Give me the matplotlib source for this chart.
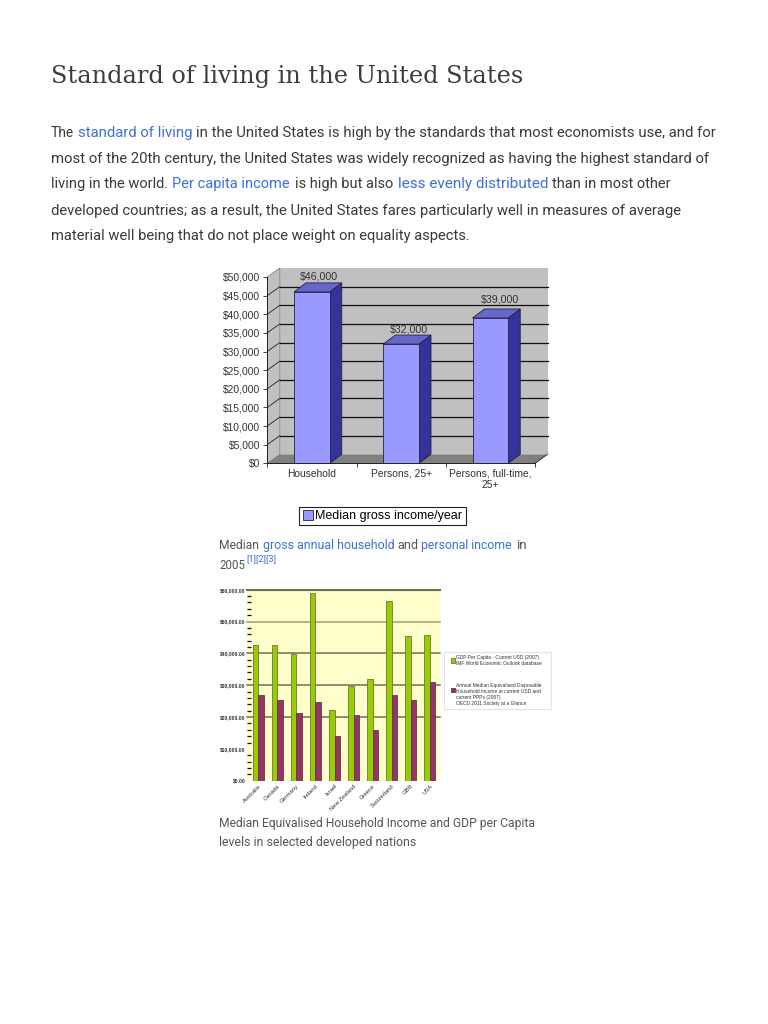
import matplotlib
matplotlib.use("Agg")
import matplotlib.pyplot as plt
from matplotlib.patches import Polygon, Patch
from matplotlib.ticker import FixedLocator, FixedFormatter
from matplotlib.transforms import ScaledTranslation

# ---- data ----
income_categories = ["Household", "Persons, 25+", "Persons, full-time,\n25+"]
income_values = [46000, 32000, 39000]
income_labels = ["$46,000", "$32,000", "$39,000"]
income_ticks = [0, 5000, 10000, 15000, 20000, 25000, 30000, 35000, 40000, 45000, 50000]

countries = ["Australia", "Canada", "Germany", "Ireland", "Israel", "New Zealand",
             "Greece", "Switzerland", "GBR", "USA"]
gdp_per_capita = [42600, 42700, 39800, 59000, 22200, 29800, 32000, 56600, 45300, 45700]
median_income = [27000, 25400, 21300, 24800, 14100, 20600, 15800, 26900, 25200, 31100]
gdp_ticks = [0, 10000, 20000, 30000, 40000, 50000, 60000]
gdp_gridlines = [20000, 30000, 40000, 50000, 60000]

title = "Standard of living in the United States"
DARK, LINK, GREY = "#3a3a3a", "#3f6fd8", "#555555"
segments = [
    ("The", 51, 74, 137, DARK),
    ("standard of living", 78.5, 192, 137, LINK),
    ("in the United States is high by the standards that most economists use, and for", 196, 715, 137, DARK),
    ("most of the 20th century, the United States was widely recognized as having the highest standard of", 51, 709, 163, DARK),
    ("living in the world.", 51, 168, 188, DARK),
    ("Per capita income", 172, 290, 188, LINK),
    ("is high but also", 295, 393, 188, DARK),
    ("less evenly distributed", 398, 548, 188, LINK),
    ("than in most other", 552, 670, 188, DARK),
    ("developed countries; as a result, the United States fares particularly well in measures of average", 51, 684, 215, DARK),
    ("material well being that do not place weight on equality aspects.", 51, 471, 240, DARK),
    ("Median", 219, 259, 549, GREY),
    ("gross annual household", 263, 394, 549, LINK),
    ("and", 397, 418, 549, GREY),
    ("personal income", 421, 511, 549, LINK),
    ("in", 516, 524, 549, GREY),
    ("2005", 219, 245, 569, GREY),
    ("[1][2][3]", 246, 276, 561, LINK),
    ("Median Equivalised Household Income and GDP per Capita", 219, 538, 827, GREY),
    ("levels in selected developed nations", 219, 416, 846, GREY),
]

W, H = 768, 1024
fig = plt.figure(figsize=(W / 100, H / 100), dpi=100, facecolor="white")
page = fig.add_axes([0, 0, 1, 1], zorder=0)
page.set_xlim(0, W)
page.set_ylim(H, 0)
page.axis("off")
renderer = fig.canvas.get_renderer()


def fitted(txt, x0, x1, y, color, family, size):
    t = page.text(x0, y, txt, color=color, family=family, fontsize=size, va="baseline", ha="left")
    if len(txt) > 2:
        for _ in range(3):
            w = t.get_window_extent(renderer).width
            t.set_fontsize(t.get_fontsize() * (x1 - x0) / w)
    return t


fitted(title, 51, 522, 83, "#3c3c3c", "DejaVu Serif", 18)
for txt, x0, x1, y, col, in segments:
    fitted(txt, x0, x1, y, col, "Roboto", 10.2 if y < 300 else 9.6)


def axes_px(l, t, r, b):
    return fig.add_axes([l / W, 1 - b / H, (r - l) / W, (b - t) / H], zorder=2)


# ---- chart 1: pseudo-3D column chart ----
ax = axes_px(267.3, 277, 535, 463.3)
ax.set_xlim(0, 3)
ax.set_ylim(0, 50000)
ax.patch.set_visible(False)
dx, dy = 12.5 / 89.2, 9 / 186.3 * 50000
WALL = "#c0c0c0"
ax.add_patch(Polygon([(dx, dy), (3 + dx, dy), (3 + dx, 50000 + dy), (dx, 50000 + dy)],
                     fc=WALL, ec="none", clip_on=False, zorder=1))
ax.add_patch(Polygon([(0, 0), (dx, dy), (dx, 50000 + dy), (0, 50000)],
                     fc=WALL, ec="#777777", lw=0.5, clip_on=False, zorder=1))
ax.add_patch(Polygon([(0, 0), (3, 0), (3 + dx, dy), (dx, dy)],
                     fc="#808080", ec="none", clip_on=False, zorder=1))
for v in income_ticks[1:-1]:
    ax.plot([dx, 3 + dx], [v + dy, v + dy], color="#111111", lw=0.9, clip_on=False, zorder=2)
    ax.plot([0, dx], [v, v + dy], color="#222222", lw=0.6, clip_on=False, zorder=2)
ax.plot([3, 3 + dx], [0, dy], color="#222222", lw=0.6, clip_on=False, zorder=2)

centers = [0.5, 1.5, 2.5]
bw = 0.4
bdx, bdy = 12 / 89.2, dy
bars = ax.bar(centers, income_values, width=bw, color="#9999ff", edgecolor="#222244",
              linewidth=0.6, zorder=4, label="Median gross income/year")
for c, v in zip(centers, income_values):
    xl, xr = c - bw / 2, c + bw / 2
    ax.add_patch(Polygon([(xr, 0), (xr + bdx, bdy), (xr + bdx, v + bdy), (xr, v)],
                         fc="#333399", ec="#222244", lw=0.6, clip_on=False, zorder=3))
    ax.add_patch(Polygon([(xl, v), (xr, v), (xr + bdx, v + bdy), (xl + bdx, v + bdy)],
                         fc="#6666cc", ec="#222244", lw=0.6, clip_on=False, zorder=3))
for c, v, lab, off in zip(centers, income_values, income_labels, [(7, 15), (8, 15), (10, 18)]):
    ax.annotate(lab, (c, v), xytext=off, textcoords="offset pixels", ha="center", va="center",
                family="Liberation Sans", fontsize=7.7, color="#333333", zorder=6, annotation_clip=False)

for s in ["top", "right"]:
    ax.spines[s].set_visible(False)
for s in ["left", "bottom"]:
    ax.spines[s].set_linewidth(0.7)
    ax.spines[s].set_color("#222222")
    ax.spines[s].set_zorder(5)
ax.set_yticks(income_ticks)
ax.set_yticklabels([f"${v:,}" for v in income_ticks], family="Liberation Sans", fontsize=7.4, color="#333333")
ax.tick_params(axis="y", length=3, width=0.6, pad=2, color="#222222")
ax.set_xticks([0, 1, 2, 3])
ax.set_xticklabels([])
ax.xaxis.set_minor_locator(FixedLocator(centers))
ax.xaxis.set_minor_formatter(FixedFormatter(income_categories))
ax.tick_params(axis="x", which="major", length=3, width=0.6, color="#222222")
ax.tick_params(axis="x", which="minor", length=0, pad=4, labelsize=7.4, labelcolor="#333333")
for t in ax.xaxis.get_minorticklabels():
    t.set_family("Liberation Sans")
ax.legend(handles=[Patch(fc="#9999ff", ec="#222244", lw=0.6, label="Median gross income/year")],
          loc="center", bbox_to_anchor=(382.5, 516), bbox_transform=page.transData,
          prop={"family": "Liberation Sans", "size": 9}, fancybox=False, framealpha=1,
          edgecolor="#222222", borderpad=0.27, handlelength=0.8, handleheight=0.8, handletextpad=0.2,
          borderaxespad=0).get_frame().set_linewidth(0.8)

# ---- chart 2: grouped columns ----
ax2 = axes_px(247.3, 589.7, 440, 780.7)
ax2.set_facecolor("#ffffcc")
ax2.set_xlim(-0.577, 9.53)
ax2.set_ylim(0, 60000)
for v in gdp_gridlines:
    col = "#9a9a78" if v == 50000 else "#6e6e5a"
    ax2.axhline(v, color=col, lw=1.1 if v < 60000 else 1.5, zorder=1, clip_on=False)
xs = list(range(len(countries)))
gw = 0.29
ax2.bar([x - gw / 2 for x in xs], gdp_per_capita, width=gw, color="#99cc00", edgecolor="#6b7548",
        linewidth=0.6, zorder=3, label="GDP Per Capita - Current USD (2007)\nIMF World Economic Outlook database")
ax2.bar([x + gw / 2 for x in xs], median_income, width=gw, color="#993366", edgecolor="#5a3a4a",
        linewidth=0.6, zorder=3,
        label="Annual Median Equivalised Disposable\nHousehold Income at current USD and\ncurrent PPPs (2007)\nOECD 2011 Society at a Glance")
for s in ax2.spines.values():
    s.set_visible(False)
ax2.set_yticks(gdp_ticks)
ax2.set_yticklabels([f"${v:,}.00" for v in gdp_ticks], family="Liberation Sans", fontsize=3.6,
                    fontweight="bold", color="#333333")
up = ScaledTranslation(0, 4 / 100, fig.dpi_scale_trans)
for t in ax2.get_yticklabels():
    t.set_transform(t.get_transform() + up)
ax2.tick_params(axis="y", which="major", length=0, pad=1)
ax2.yaxis.set_minor_locator(FixedLocator([v for v in range(2000, 60000, 2000) if v % 10000]))
ax2.tick_params(axis="y", which="minor", length=3, width=0.9, direction="in", color="#111111", left=True)
ax2.set_xticks(xs)
ax2.set_xticklabels(countries, rotation=45, ha="right", rotation_mode="anchor",
                    family="Liberation Sans", fontsize=4.2, color="#333333")
left = ScaledTranslation(-6 / 100, 0, fig.dpi_scale_trans)
for t in ax2.get_xticklabels():
    t.set_transform(t.get_transform() + left)
ax2.tick_params(axis="x", length=0, pad=2)
leg = ax2.legend(loc="upper left", mode="expand", bbox_to_anchor=(444, 652, 107, 0),
                 bbox_transform=page.transData,
                 prop={"family": "Liberation Sans", "size": 3.5}, fancybox=False, framealpha=1,
                 edgecolor="#e2e2e2", labelspacing=3.6, handlelength=1.8, handleheight=1.0,
                 handletextpad=0.05, borderpad=0.6, borderaxespad=0, labelcolor="#333333")
leg.get_frame().set_linewidth(0.8)
for h, lift in zip(leg.legend_handles, [0.0, 3.5]):
    h.set_x(h.get_x() + 2.9)
    h.set_width(3.0)
    h.set_y(h.get_y() + lift)

fig.savefig("out.png", dpi=100, facecolor="white")
